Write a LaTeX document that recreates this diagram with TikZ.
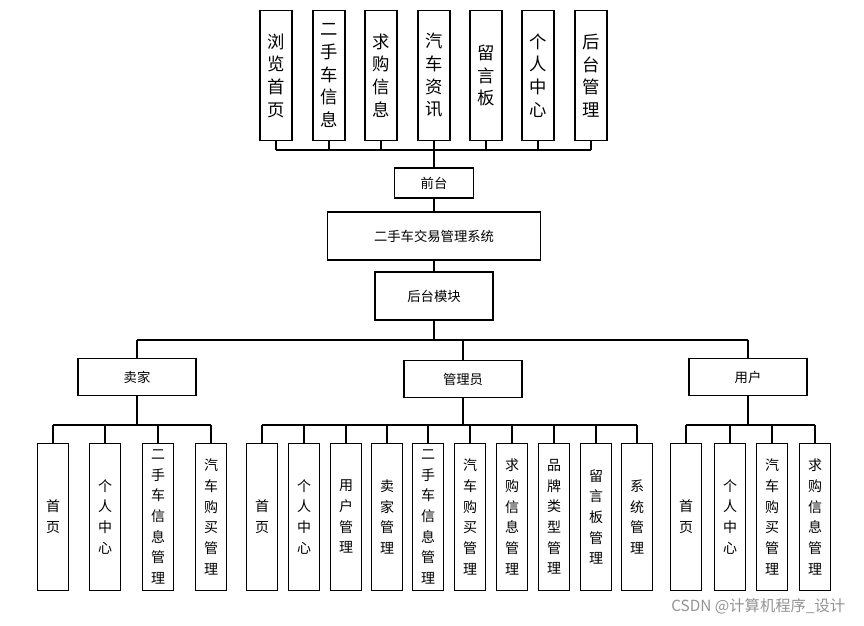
\documentclass[tikz,border=0pt]{standalone}
\usepackage{fontspec}
\setmainfont{Noto Sans CJK SC}
\begin{document}
\begin{tikzpicture}[x=0.75pt,y=-0.75pt,
  bx/.style={draw,line width=0.8pt,inner sep=0,align=center},
  ln/.style={line width=0.8pt}]
\useasboundingbox (0,0) rectangle (864,625);
\fill[white] (0,0) rectangle (864,625);
% top boxes
\foreach \x/\t [count=\i] in {276/浏\\览\\首\\页,329/二\\手\\车\\信\\息,381/求\\购\\信\\息,434/汽\\车\\资\\讯,486/留\\言\\板,538/个\\人\\中\\心,591/后\\台\\管\\理}{
  \node[bx,minimum width=24pt,minimum height=97.5pt,anchor=north,font=\fontsize{13}{17}\selectfont] (t\i) at (\x,10) {\t};
  \draw[ln] (t\i.south) -- (\x,150);
}
\draw[ln] (276,150) -- (591,150);
\node[bx,minimum width=59pt,minimum height=22.5pt,font=\fontsize{10}{12}\selectfont] (qt) at (434,183) {前台};
\node[bx,minimum width=160pt,minimum height=36pt,font=\fontsize{10}{12}\selectfont] (sys) at (434,236) {二手车交易管理系统};
\node[bx,minimum width=88.5pt,minimum height=36pt,font=\fontsize{10}{12}\selectfont] (ht) at (434,296) {后台模块};
\draw[ln] (434,150) -- (qt.north);
\draw[ln] (qt.south) -- (sys.north);
\draw[ln] (sys.south) -- (ht.north);
\draw[ln] (ht.south) -- (434,340);
\draw[ln] (137,340) -- (748,340);
\node[bx,minimum width=88.5pt,minimum height=28pt,font=\fontsize{10}{12}\selectfont] (mj) at (137,377) {卖家};
\node[bx,minimum width=88.5pt,minimum height=28pt,font=\fontsize{10}{12}\selectfont] (gl) at (463,379) {管理员};
\node[bx,minimum width=88.5pt,minimum height=28pt,font=\fontsize{10}{12}\selectfont] (yh) at (748,377) {用户};
\draw[ln] (137,340) -- (mj.north);
\draw[ln] (463,340) -- (gl.north);
\draw[ln] (748,340) -- (yh.north);
\draw[ln] (mj.south) -- (137,425);
\draw[ln] (gl.south) -- (463,425);
\draw[ln] (yh.south) -- (748,425);
\tikzset{leaf/.style={bx,minimum width=23pt,minimum height=110pt,anchor=north,font=\fontsize{10.5}{15.5}\selectfont}}
% seller
\foreach \x/\t [count=\i] in {53/首\\页,105/个\\人\\中\\心,158/二\\手\\车\\信\\息\\管\\理,211/汽\\车\\购\\买\\管\\理}{
  \node[leaf] (s\i) at (\x,443) {\t};
  \draw[ln] (\x,425) -- (s\i.north);
}
\draw[ln] (53,425) -- (211,425);
% admin
\foreach \x/\t [count=\i] in {262/首\\页,304/个\\人\\中\\心,346/用\\户\\管\\理,387/卖\\家\\管\\理,428/二\\手\\车\\信\\息\\管\\理,470/汽\\车\\购\\买\\管\\理,512/求\\购\\信\\息\\管\\理,554/品\\牌\\类\\型\\管\\理,596/留\\言\\板\\管\\理,637/系\\统\\管\\理}{
  \node[leaf] (a\i) at (\x,443) {\t};
  \draw[ln] (\x,425) -- (a\i.north);
}
\draw[ln] (262,425) -- (637,425);
% user
\foreach \x/\t [count=\i] in {686/首\\页,730/个\\人\\中\\心,772/汽\\车\\购\\买\\管\\理,815/求\\购\\信\\息\\管\\理}{
  \node[leaf] (u\i) at (\x,443) {\t};
  \draw[ln] (\x,425) -- (u\i.north);
}
\draw[ln] (686,425) -- (815,425);
\node[font=\fontsize{11.5}{13}\selectfont,text=gray!85,anchor=east] (wm) at (850,606) {CSDN @计算机程序\_设计};
\end{tikzpicture}
\end{document}
